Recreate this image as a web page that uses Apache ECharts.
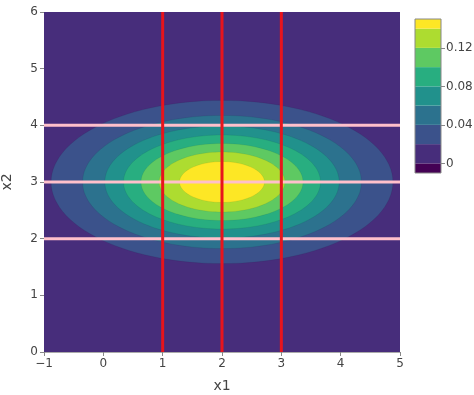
<!DOCTYPE html>
<html>
<head>
<meta charset="utf-8">
<script src="https://cdn.jsdelivr.net/npm/echarts@6/dist/echarts.min.js"></script>
<style>html,body{margin:0;padding:0;background:#fff;}#c{width:474px;height:395px;}</style>
</head>
<body>
<div id="c"></div>
<script>
// Contour levels (density) and the half-widths of each filled contour ellipse
const centre = [2, 3];
const contourLevels = [0.02, 0.04, 0.06, 0.08, 0.10, 0.12, 0.14];
const ellipseRx = [2.88, 2.35, 1.975, 1.66, 1.365, 1.06, 0.715];
const ellipseRy = [1.44, 1.175, 0.99, 0.83, 0.68, 0.53, 0.36];
// band colours: <0, 0-0.02, ..., >0.14
const bandColors = ['#440154', '#472d7b', '#3b528b', '#2c728e', '#21918c', '#28ae80', '#5ec962', '#addc30', '#fde725'];
const bandEdges = [-0.01, 0, 0.02, 0.04, 0.06, 0.08, 0.10, 0.12, 0.14, 0.15];
const colorbarTicks = [0, 0.04, 0.08, 0.12];
// reference lines
const verticalLinesX1 = [1, 2, 3];
const horizontalLinesX2 = [2, 3, 4];

const font = 'DejaVu Sans, Verdana, sans-serif';
const txt = '#444';

const ellipseData = contourLevels.map((lv, i) => [centre[0], centre[1], ellipseRx[i], ellipseRy[i], i + 2]);

const series = [];
series.push({
  type: 'custom',
  xAxisIndex: 0, yAxisIndex: 0,
  data: ellipseData,
  z: 1,
  silent: true,
  renderItem: function (params, api) {
    const cx = api.value(0), cy = api.value(1), rx = api.value(2), ry = api.value(3);
    const col = bandColors[api.value(4)];
    const pts = [];
    const N = 120;
    for (let k = 0; k < N; k++) {
      const t = 2 * Math.PI * k / N;
      pts.push(api.coord([cx + rx * Math.cos(t), cy + ry * Math.sin(t)]));
    }
    return {
      type: 'polygon',
      shape: { points: pts, smooth: 0 },
      style: { fill: col, stroke: 'rgba(0,0,0,0.12)', lineWidth: 0.5 }
    };
  }
});
horizontalLinesX2.forEach(y => {
  series.push({
    type: 'line', xAxisIndex: 0, yAxisIndex: 0,
    data: [[-1, y], [5, y]], symbol: 'none', silent: true, z: 3,
    lineStyle: { color: '#ffc0cb', width: 3 }
  });
});
verticalLinesX1.forEach(x => {
  series.push({
    type: 'line', xAxisIndex: 0, yAxisIndex: 0,
    data: [[x, 0], [x, 6]], symbol: 'none', silent: true, z: 4,
    lineStyle: { color: '#e8141c', width: 3 }
  });
});
// colorbar bands
const cbData = bandColors.map((c, i) => [0, bandEdges[i], bandEdges[i + 1], i]);
series.push({
  type: 'custom', xAxisIndex: 1, yAxisIndex: 1, silent: true,
  data: cbData,
  renderItem: function (params, api) {
    const lo = api.coord([0, api.value(1)]);
    const hi = api.coord([0, api.value(2)]);
    const w = api.size([1, 0])[0];
    return {
      type: 'rect',
      shape: { x: lo[0] - w / 2, y: hi[1], width: w, height: lo[1] - hi[1] },
      style: { fill: bandColors[api.value(3)] }
    };
  }
});

const chart = echarts.init(document.getElementById('c'), null, { renderer: 'canvas' });
chart.setOption({
  animation: false,
  backgroundColor: '#fff',
  grid: [
    { left: 44, right: 74, top: 12, bottom: 43, show: true, backgroundColor: bandColors[1], borderWidth: 0, containLabel: false, outerBoundsMode: 'none' },
    { left: 415, width: 26, top: 19, height: 154, show: true, backgroundColor: 'transparent', borderColor: '#888', borderWidth: 1, z: 10, containLabel: false, outerBoundsMode: 'none' }
  ],
  xAxis: [
    {
      type: 'value', gridIndex: 0, min: -1, max: 5, interval: 1,
      name: 'x1', nameLocation: 'middle', nameGap: 27,
      nameTextStyle: { color: txt, fontSize: 14, fontFamily: font },
      axisLine: { show: true, onZero: false, lineStyle: { color: '#aaa', width: 1 } },
      axisTick: { show: true, length: 4, lineStyle: { color: '#888' } },
      axisLabel: { color: txt, fontSize: 12, fontFamily: font, margin: 6,
        formatter: v => (v < 0 ? '\u2212' + Math.abs(v) : String(v)) },
      splitLine: { show: false }
    },
    { type: 'category', gridIndex: 1, data: ['cb'], show: false, boundaryGap: true }
  ],
  yAxis: [
    {
      type: 'value', gridIndex: 0, min: 0, max: 6, interval: 1,
      name: 'x2', nameLocation: 'middle', nameGap: 30, nameRotate: 90,
      nameTextStyle: { color: txt, fontSize: 14, fontFamily: font },
      axisLine: { show: false, onZero: false },
      axisTick: { show: true, length: 4, lineStyle: { color: '#888' } },
      axisLabel: { color: txt, fontSize: 12, fontFamily: font, margin: 6 },
      splitLine: { show: false }
    },
    {
      type: 'value', gridIndex: 1, min: -0.01, max: 0.15, position: 'right',
      axisLine: { show: false, onZero: false },
      axisTick: { show: true, length: 4, customValues: colorbarTicks, lineStyle: { color: '#888' } },
      axisLabel: { show: true, customValues: colorbarTicks, color: txt, fontSize: 12, fontFamily: font, margin: 5,
        formatter: v => String(Math.round(v * 100) / 100) },
      splitLine: { show: false }
    }
  ],
  series: series
});
</script>
</body>
</html>
